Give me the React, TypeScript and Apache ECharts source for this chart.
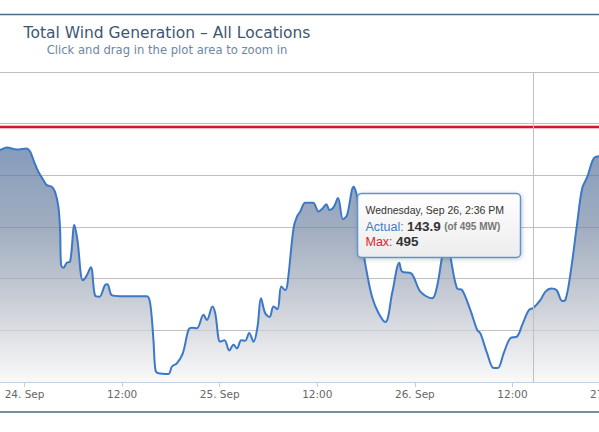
import React, { useEffect, useRef } from "react";
import * as echarts from "echarts";

const TITLE = "Total Wind Generation – All Locations";
const SUBTITLE = "Click and drag in the plot area to zoom in";

// hours after 24 Sep 00:00
const hours = [
  -3.5, -3.02, -2.19, -0.96, 0.27, 0.68, 1.08, 1.7, 2.31, 2.73, 3.35, 3.75, 4.16, 4.37, 4.49, 4.78,
  5.19, 5.6, 6.13, 6.5, 7.16, 7.57, 8.15, 8.68, 9.21, 9.91, 10.19, 10.73, 11.75, 13.4, 15.04, 15.45,
  15.85, 16.1, 16.47, 17.7, 18.12, 18.73, 19.47, 20.16, 20.58, 21.19, 22.01, 22.42, 23.11, 23.45,
  24.06, 24.59, 25.17, 25.7, 26.12, 26.65, 27.14, 27.63, 28.16, 28.65, 29.07, 29.6, 30.13, 30.62,
  31.11, 31.57, 32.06, 32.34, 33.08, 33.5, 33.91, 34.52, 35.47, 36.16, 36.65, 37.11, 37.51, 38.0,
  38.55, 39.16, 39.66, 40.47, 40.89, 41.54, 42.15, 42.77, 43.51, 44.37, 45.23, 46.09, 46.42, 47.57,
  48.68, 50.12, 50.73, 51.35, 51.88, 52.37, 53.19, 53.81, 54.83, 55.66, 56.06, 56.88, 57.7, 58.19,
  58.93, 59.75, 60.58, 61.19, 62.01, 62.6, 63.45, 64.06, 64.76, 65.42, 66.12, 66.52, 67.14, 67.96,
  68.58, 69.2, 70.01, 70.71, 71.45,
];
const actualMW = [
  447, 449, 454, 450, 452, 446, 430, 407, 391, 381, 378, 368, 339, 294, 227, 221,
  231, 233, 304, 275, 197, 204, 222, 167, 165, 188, 189, 168, 166, 166, 166, 152,
  81, 23, 17, 15.5, 30, 36, 56, 101, 105, 104, 130, 120, 146, 133,
  78, 81, 61, 72, 65, 81, 80, 95, 78, 107, 162, 133, 126, 146,
  141, 185, 178, 191, 298, 320, 330, 347, 347, 330, 336, 344, 333, 338,
  356, 315, 323, 378, 359, 265, 207, 163, 134, 116, 174, 231, 214, 210,
  175, 162, 185, 243, 285, 243, 181, 178, 139, 101, 94, 56, 27, 27,
  56, 85, 88, 110, 139, 143.9, 159, 175, 181, 178, 157, 159, 210, 307,
  375, 397, 433, 437, 437,
];

const MAX_MW = 495;
const TIP_HOUR = 62.6; // Wed 26 Sep, 14:36
const TIP_HEADER = "Wednesday, Sep 26, 2:36 PM";
const DAY_LABELS: Record<number, string> = {
  "-24": "23. Sep",
  0: "24. Sep",
  24: "25. Sep",
  48: "26. Sep",
  72: "27. Sep",
};
const X_MIN = -12;
const X_MAX = 72;
const X_STEP = 12;
const Y_MIN = 0;
const Y_MAX = 600;
const Y_STEP = 100;

const FONT = '"DejaVu Sans", Verdana, sans-serif';
const TIP_FONT = '"Liberation Sans", Arial, sans-serif';

// the chart canvas is wider than the window and shifted left (the reference is a crop)
const SHIFT = 73;
const CANVAS_W = 683;

export default function App() {
  const ref = useRef<HTMLDivElement>(null);

  useEffect(() => {
    if (!ref.current) return;
    const chart = echarts.init(ref.current, undefined, { renderer: "svg" });
    const tipIdx = hours.indexOf(TIP_HOUR);
    const tipVal = actualMW[tipIdx];
    const X = (v: number) => v + SHIFT;

    chart.setOption({
      animation: false,
      backgroundColor: "#ffffff",
      grid: { left: 0, right: 0, top: 72, bottom: 50, containLabel: false, outerBoundsMode: "none" },
      xAxis: {
        type: "value",
        min: X_MIN,
        max: X_MAX,
        interval: X_STEP,
        axisLine: { show: true, lineStyle: { color: "#C0D0E0", width: 1 } },
        axisTick: { show: true, length: 5, lineStyle: { color: "#C0D0E0" } },
        splitLine: { show: false },
        axisLabel: {
          show: true,
          showMinLabel: false,
          showMaxLabel: true,
          interval: 0,
          color: "#666666",
          fontSize: 10.5,
          fontFamily: FONT,
          margin: 6,
          formatter: (v: number) => (v % 24 === 0 ? DAY_LABELS[v] : "12:00"),
        },
      },
      yAxis: {
        type: "value",
        min: Y_MIN,
        max: Y_MAX,
        interval: Y_STEP,
        axisLine: { show: false },
        axisTick: { show: false },
        axisLabel: { show: false },
        splitLine: { show: true, lineStyle: { color: "#C0C0C0", width: 1 } },
      },
      series: [
        {
          type: "line",
          data: hours.map((h, i) => [h, actualMW[i]]),
          smooth: 0.35,
          showSymbol: false,
          lineStyle: { color: "#3C78C8", width: 2 },
          areaStyle: {
            color: {
              type: "linear",
              x: 0,
              y: 0,
              x2: 0,
              y2: 1,
              colorStops: [
                { offset: 0, color: "#52729f" },
                { offset: 0.35, color: "#7a8ba6" },
                { offset: 0.65, color: "#b2b8c4" },
                { offset: 1, color: "#f7f7f7" },
              ],
            },
          },
          markLine: {
            silent: true,
            symbol: "none",
            label: { show: false },
            data: [
              { yAxis: MAX_MW, lineStyle: { color: "rgba(220,40,60,0.3)", width: 4, type: "solid" } },
              { yAxis: MAX_MW, lineStyle: { color: "#D6182C", width: 2, type: "solid" } },
              { xAxis: TIP_HOUR, lineStyle: { color: "#C0C0C0", width: 1, type: "solid" } },
            ],
          },
        },
      ],
      graphic: [
        {
          type: "line",
          shape: { x1: X(0), y1: 14.5, x2: X(599), y2: 14.5 },
          style: { stroke: "#4D6883", lineWidth: 1.5 },
        },
        {
          type: "line",
          shape: { x1: X(0), y1: 412, x2: X(599), y2: 412 },
          style: { stroke: "#4D6883", lineWidth: 1.5 },
        },
        {
          type: "text",
          x: X(167),
          y: 32.5,
          style: {
            text: TITLE,
            fill: "#3E576F",
            font: `15.5px ${FONT}`,
            align: "center",
            verticalAlign: "middle",
          },
        },
        {
          type: "text",
          x: X(167),
          y: 49.5,
          style: {
            text: SUBTITLE,
            fill: "#6D869F",
            font: `11.6px ${FONT}`,
            align: "center",
            verticalAlign: "middle",
          },
        },
        {
          type: "rect",
          z: 100,
          shape: { x: X(357.5), y: 193.5, width: 163, height: 64, r: 4 },
          style: {
            fill: {
              type: "linear",
              x: 0,
              y: 0,
              x2: 0,
              y2: 1,
              colorStops: [
                { offset: 0, color: "#ffffff" },
                { offset: 1, color: "#ececec" },
              ],
            },
            stroke: "#5E93D0",
            lineWidth: 1.5,
            shadowBlur: 4,
            shadowOffsetX: 1,
            shadowOffsetY: 1,
            shadowColor: "rgba(0,0,0,0.2)",
          },
        },
        {
          type: "text",
          z: 101,
          x: X(365.5),
          y: 210,
          style: {
            text: TIP_HEADER,
            fill: "#333333",
            font: `10.5px ${TIP_FONT}`,
            verticalAlign: "middle",
          },
        },
        {
          type: "text",
          z: 101,
          x: X(365.5),
          y: 226.5,
          style: {
            text: `{a|Actual:} {b|${tipVal.toFixed(1)}} {c|(of ${MAX_MW} MW)}`,
            verticalAlign: "middle",
            font: `12px ${TIP_FONT}`,
            rich: {
              a: { fill: "#3F7CC6", fontSize: 12.5, fontFamily: TIP_FONT },
              b: { fill: "#333333", fontSize: 13.5, fontWeight: "bold", fontFamily: TIP_FONT },
              c: { fill: "#777777", fontSize: 10, fontWeight: "bold", fontFamily: TIP_FONT },
            },
          },
        },
        {
          type: "text",
          z: 101,
          x: X(365.5),
          y: 241.5,
          style: {
            text: `{a|Max:} {b|${MAX_MW}}`,
            verticalAlign: "middle",
            font: `12px ${TIP_FONT}`,
            rich: {
              a: { fill: "#E0202E", fontSize: 12.5, fontFamily: TIP_FONT },
              b: { fill: "#333333", fontSize: 13.5, fontWeight: "bold", fontFamily: TIP_FONT },
            },
          },
        },
      ],
    });

    return () => chart.dispose();
  }, []);

  return (
    <div
      ref={ref}
      style={{
        position: "fixed",
        left: -SHIFT,
        top: 0,
        width: CANVAS_W,
        height: 432,
        background: "#fff",
      }}
    />
  );
}
